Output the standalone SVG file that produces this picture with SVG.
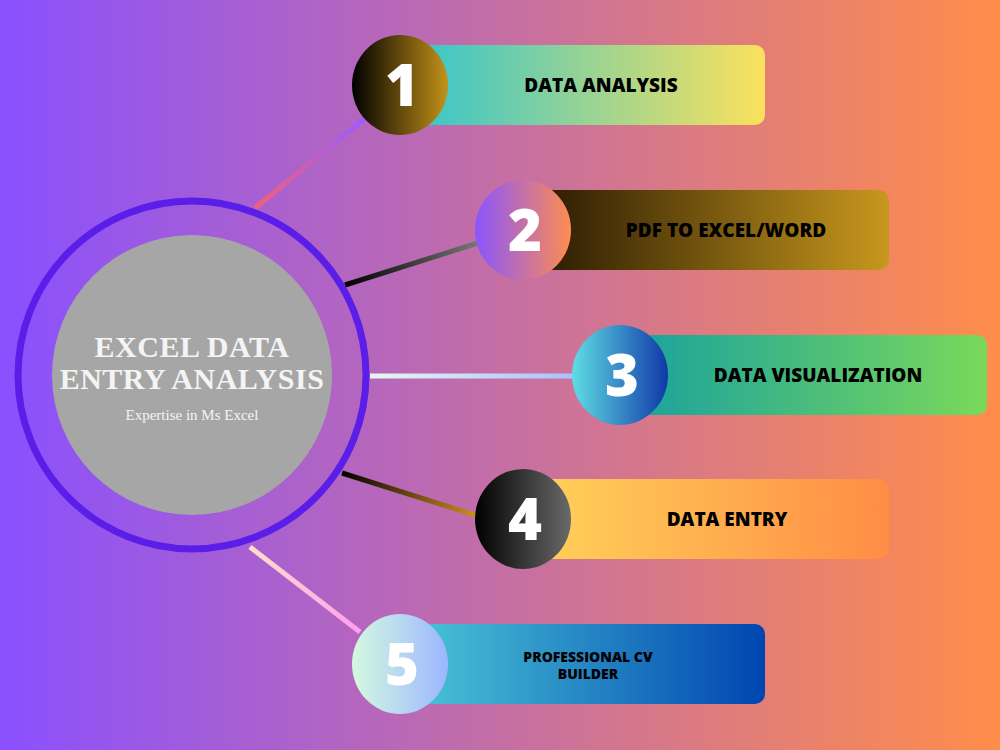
<svg xmlns="http://www.w3.org/2000/svg" width="1000" height="750" viewBox="0 0 1000 750">
<defs>
<linearGradient id="bg"><stop offset="0" stop-color="#8a50ff"/><stop offset="1" stop-color="#ff8d4a"/></linearGradient>
<linearGradient id="b1"><stop offset="0" stop-color="#2ec4d0"/><stop offset="1" stop-color="#fbe15c"/></linearGradient>
<linearGradient id="c1"><stop offset="0" stop-color="#000"/><stop offset="1" stop-color="#c4921a"/></linearGradient>
<linearGradient id="b2"><stop offset="0" stop-color="#221400"/><stop offset="1" stop-color="#c8981e"/></linearGradient>
<linearGradient id="c2"><stop offset="0" stop-color="#8a55ff"/><stop offset="1" stop-color="#ff8c50"/></linearGradient>
<linearGradient id="b3"><stop offset="0" stop-color="#16a0a0"/><stop offset="1" stop-color="#7ad85a"/></linearGradient>
<linearGradient id="c3"><stop offset="0" stop-color="#5fdde5"/><stop offset="1" stop-color="#1038a8"/></linearGradient>
<linearGradient id="b4"><stop offset="0" stop-color="#ffd45a"/><stop offset="1" stop-color="#ff8c45"/></linearGradient>
<linearGradient id="c4"><stop offset="0" stop-color="#000"/><stop offset="1" stop-color="#6a6a6a"/></linearGradient>
<linearGradient id="b5"><stop offset="0" stop-color="#4ccad8"/><stop offset="1" stop-color="#0045b0"/></linearGradient>
<linearGradient id="c5"><stop offset="0" stop-color="#d4fae0"/><stop offset="1" stop-color="#9cb6ff"/></linearGradient>
<linearGradient id="l1" gradientUnits="userSpaceOnUse" x1="255" y1="208" x2="365" y2="118"><stop offset="0" stop-color="#f0607a"/><stop offset="1" stop-color="#9a5cff"/></linearGradient>
<linearGradient id="l2" gradientUnits="userSpaceOnUse" x1="345" y1="285" x2="478" y2="243"><stop offset="0" stop-color="#000"/><stop offset="1" stop-color="#777"/></linearGradient>
<linearGradient id="l3" gradientUnits="userSpaceOnUse" x1="370" y1="376" x2="575" y2="376"><stop offset="0" stop-color="#e8f8f0"/><stop offset="1" stop-color="#a8c0ff"/></linearGradient>
<linearGradient id="l4" gradientUnits="userSpaceOnUse" x1="342" y1="473" x2="478" y2="516"><stop offset="0" stop-color="#000"/><stop offset="1" stop-color="#d09020"/></linearGradient>
<linearGradient id="l5" gradientUnits="userSpaceOnUse" x1="250" y1="547" x2="360" y2="632"><stop offset="0" stop-color="#ffe0c8"/><stop offset="1" stop-color="#ff9ef0"/></linearGradient>
</defs>
<style>
.lbl{font-family:"Open Sans","Liberation Sans",sans-serif;font-weight:800;font-size:19px;fill:#000;text-anchor:middle}
.num{font-family:"Open Sans","Liberation Sans",sans-serif;font-weight:800;font-size:58px;fill:#fff;text-anchor:middle}
.ln{stroke-width:5;fill:none}
.ttl{font-family:"Liberation Serif",serif;font-weight:bold;font-size:30px;fill:#f4f4f4;text-anchor:middle;letter-spacing:0.5px}
</style>
<rect width="1000" height="750" fill="url(#bg)"/>
<g id="connectors">
<line class="ln" x1="255" y1="208" x2="365" y2="118" stroke="url(#l1)"/>
<line class="ln" x1="345" y1="285" x2="478" y2="243" stroke="url(#l2)"/>
<line class="ln" x1="370" y1="376" x2="575" y2="376" stroke="url(#l3)"/>
<line class="ln" x1="342" y1="473" x2="478" y2="516" stroke="url(#l4)"/>
<line class="ln" x1="250" y1="547" x2="360" y2="632" stroke="url(#l5)"/>
</g>
<g id="center">
<circle cx="192" cy="375" r="174" fill="none" stroke="#5b1ee8" stroke-width="7"/>
<circle cx="192" cy="375" r="140" fill="#a6a6a6"/>
<text class="ttl" x="192" y="357">EXCEL DATA</text>
<text class="ttl" x="192" y="389">ENTRY ANALYSIS</text>
<text x="192" y="420" font-family="Liberation Serif,serif" font-size="15" fill="#f4f4f4" text-anchor="middle">Expertise in Ms Excel</text>
</g>
<g id="node1">
<rect x="400" y="45" width="365" height="80" rx="10" fill="url(#b1)"/>
<ellipse cx="400" cy="85" rx="48" ry="50" fill="url(#c1)"/>
<text class="num" x="402" y="106">1</text>
<text class="lbl" x="601" y="92">DATA ANALYSIS</text>
</g>
<g id="node2">
<rect x="523" y="190" width="366" height="80" rx="10" fill="url(#b2)"/>
<ellipse cx="523" cy="230" rx="48" ry="50" fill="url(#c2)"/>
<text class="num" x="525" y="251">2</text>
<text class="lbl" x="726" y="237">PDF TO EXCEL/WORD</text>
</g>
<g id="node3">
<rect x="620" y="335" width="367" height="80" rx="10" fill="url(#b3)"/>
<ellipse cx="620" cy="375" rx="48" ry="50" fill="url(#c3)"/>
<text class="num" x="622" y="396">3</text>
<text class="lbl" x="818" y="382">DATA VISUALIZATION</text>
</g>
<g id="node4">
<rect x="523" y="479" width="366" height="80" rx="10" fill="url(#b4)"/>
<ellipse cx="523" cy="519" rx="48" ry="50" fill="url(#c4)"/>
<text class="num" x="525" y="540">4</text>
<text class="lbl" x="727" y="526">DATA ENTRY</text>
</g>
<g id="node5">
<rect x="400" y="624" width="365" height="80" rx="10" fill="url(#b5)"/>
<ellipse cx="400" cy="664" rx="48" ry="50" fill="url(#c5)"/>
<text class="num" x="402" y="685">5</text>
<text class="lbl" x="588" y="662" style="font-size:14px">PROFESSIONAL CV</text>
<text class="lbl" x="588" y="679" style="font-size:14px">BUILDER</text>
</g>
</svg>
